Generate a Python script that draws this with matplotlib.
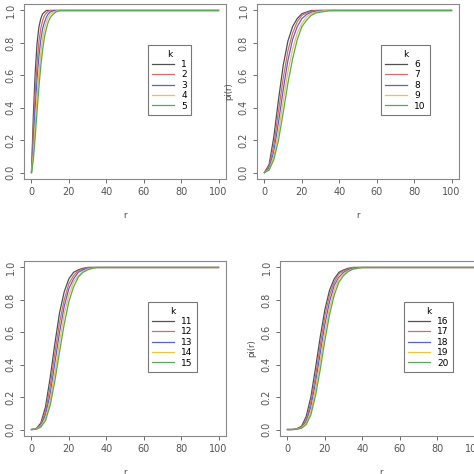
import matplotlib
matplotlib.use("Agg")
import matplotlib.pyplot as plt

# r grids (last point r=100 as curves stay flat at 1)
r_fine = list(range(0, 21)) + [100]
r_coarse = [i * 2.5 for i in range(0, 21)] + [100]

colors = ["#505050", "#d86a6a", "#5a64c8", "#e8c44a", "#5aa85a"]

def pad(vals, n):
    return vals + [1.0] * (n - len(vals))

panel1 = {
    1: [0, .35, .62, .80, .90, .95, .98, .99, 1],
    2: [0, .25, .50, .68, .81, .89, .94, .97, .985, .995, 1],
    3: [0, .18, .40, .58, .72, .82, .89, .93, .96, .98, .99, .995, 1],
    4: [0, .12, .30, .47, .62, .74, .83, .89, .93, .96, .975, .985, .99, .995, 1],
    5: [0, .08, .22, .38, .53, .66, .76, .84, .89, .93, .955, .97, .98, .99, .995, 1],
}
panel2 = {
    6: [0, .05, .22, .45, .66, .81, .90, .95, .98, .99, 1],
    7: [0, .04, .17, .38, .58, .75, .86, .93, .97, .985, .995, 1],
    8: [0, .03, .13, .31, .51, .69, .82, .90, .95, .975, .99, .995, 1],
    9: [0, .02, .10, .25, .44, .62, .76, .86, .92, .96, .98, .99, .995, 1],
    10: [0, .015, .08, .20, .37, .55, .70, .82, .90, .94, .97, .985, .99, .995, 1],
}
panel3 = {
    11: [0, .005, .04, .14, .32, .53, .72, .85, .93, .97, .985, .995, 1],
    12: [0, .004, .03, .11, .27, .47, .66, .80, .90, .95, .98, .99, 1],
    13: [0, .003, .025, .09, .22, .41, .60, .76, .87, .93, .97, .985, .995, 1],
    14: [0, .002, .02, .07, .18, .35, .54, .71, .83, .91, .95, .975, .99, .995, 1],
    15: [0, .001, .015, .055, .15, .30, .48, .65, .79, .88, .94, .97, .985, .995, 1],
}
panel4 = {
    16: [0, 0, .005, .02, .08, .20, .38, .57, .74, .86, .93, .97, .985, .995, 1],
    17: [0, 0, .004, .015, .06, .17, .33, .52, .70, .83, .91, .96, .98, .99, 1],
    18: [0, 0, .003, .012, .05, .14, .29, .47, .65, .79, .89, .94, .97, .985, .995, 1],
    19: [0, 0, .002, .01, .04, .11, .25, .42, .60, .75, .86, .93, .96, .98, .99, .995, 1],
    20: [0, 0, .001, .008, .03, .09, .21, .37, .55, .71, .83, .91, .95, .975, .99, .995, 1],
}

W = H = 474
fig = plt.figure(figsize=(W / 100, H / 100), dpi=100)

def px_axes(left, top, w=202, h=175):
    return fig.add_axes([left / W, 1 - (top + h) / H, w / W, h / H])

panels = [
    (panel1, r_fine, 24, 4, False),
    (panel2, r_coarse, 257, 4, True),
    (panel3, r_coarse, 24, 261, False),
    (panel4, r_coarse, 280, 261, True),
]

for data, rr, left, top, ylab in panels:
    ax = px_axes(left, top)
    for (k, vals), c in zip(data.items(), colors):
        ax.plot(rr, pad(vals, len(rr)), color=c, lw=0.9, label=str(k))
    ax.set_xlim(-4, 104)
    ax.set_ylim(-0.04, 1.04)
    ax.set_xticks([0, 20, 40, 60, 80, 100])
    ax.set_yticks([0, .2, .4, .6, .8, 1.0])
    ax.set_yticklabels(["0.0", "0.2", "0.4", "0.6", "0.8", "1.0"], rotation=90, va="center")
    ax.tick_params(labelsize=7, colors="#555555", length=3, width=0.6, pad=3)
    for s in ax.spines.values():
        s.set_color("#888888")
        s.set_linewidth(0.8)
    ax.set_xlabel("r", fontsize=6, color="#444444", labelpad=10)
    if ylab:
        ax.set_ylabel("pi(r)", fontsize=6, color="#444444", labelpad=4)
    leg = ax.legend(title="k", loc="upper left", bbox_to_anchor=(0.59, 0.79),
                    fontsize=6.5, title_fontsize=6.5, frameon=True, fancybox=False,
                    handlelength=2.4, borderpad=0.5, labelspacing=0.15)
    leg.get_frame().set_edgecolor("#555555")
    leg.get_frame().set_linewidth(0.8)

fig.savefig("out.png", dpi=100)
